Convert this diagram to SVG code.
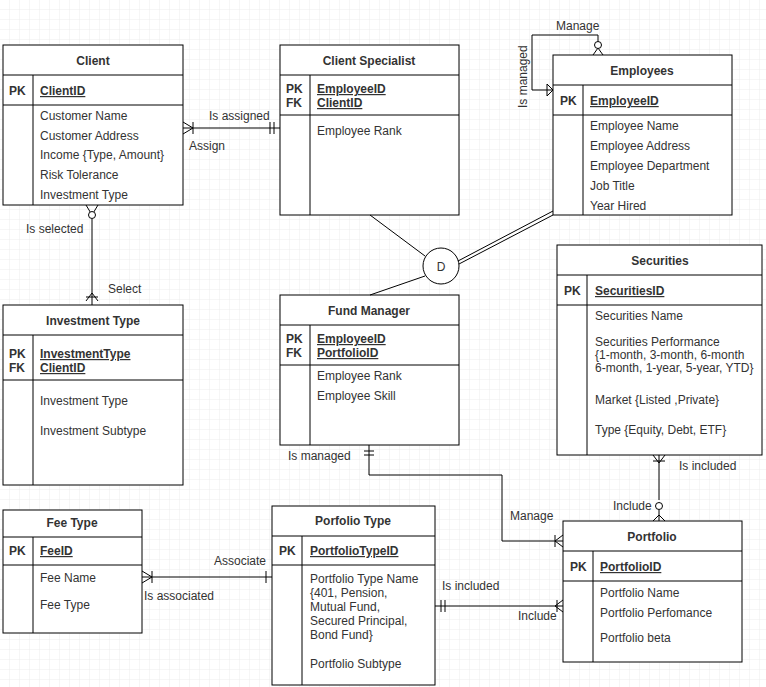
<svg xmlns="http://www.w3.org/2000/svg" width="766" height="687" viewBox="0 0 766 687">
<defs>
<pattern id="g" width="10" height="10" patternUnits="userSpaceOnUse"><path d="M10 0V10H0" fill="none" stroke="#ececec" stroke-width="1"/></pattern>
<style>
text{font-family:"Liberation Sans",Arial,sans-serif;font-size:12px;fill:#333}
.t{font-weight:bold;text-anchor:middle}
.k{font-weight:bold}
.u{text-decoration:underline}
.b{fill:#fff;stroke:#000;stroke-width:1}
.l{fill:none;stroke:#000;stroke-width:1}
</style>
</defs>
<rect width="766" height="687" fill="#fff"/>
<rect width="766" height="687" fill="url(#g)"/>
<g id="client">
<rect class="b" x="3" y="45" width="180" height="160"/>
<path class="l" d="M3 75H183M3 105H183M33 75V205"/>
<text class="t" x="93" y="65">Client</text>
<text class="k" x="9" y="95">PK</text><text class="k u" x="40" y="95">ClientID</text>
<text x="40" y="120">Customer Name</text><text x="40" y="140">Customer Address</text><text x="40" y="159">Income {Type, Amount}</text><text x="40" y="179">Risk Tolerance</text><text x="40" y="199">Investment Type</text>
</g>
<g id="clientspecialist">
<rect class="b" x="280" y="45" width="179" height="170"/>
<path class="l" d="M280 75H459M280 115H459M310 75V215"/>
<text class="t" x="369" y="65">Client Specialist</text>
<text class="k" x="286" y="93">PK</text><text class="k" x="286" y="107">FK</text>
<text class="k u" x="317" y="93">EmployeeID</text><text class="k u" x="317" y="107">ClientID</text>
<text x="317" y="135">Employee Rank</text>
</g>
<g id="employees">
<rect class="b" x="553" y="55" width="179" height="160"/>
<path class="l" d="M553 85H732M553 115H732M583 85V215"/>
<text class="t" x="642" y="75">Employees</text>
<text class="k" x="560" y="105">PK</text><text class="k u" x="590" y="105">EmployeeID</text>
<text x="590" y="130">Employee Name</text><text x="590" y="150">Employee Address</text><text x="590" y="170">Employee Department</text><text x="590" y="190">Job Title</text><text x="590" y="210">Year Hired</text>
</g>
<g id="securities">
<rect class="b" x="557" y="245" width="205" height="210"/>
<path class="l" d="M557 275H762M557 305H762M587 275V455"/>
<text class="t" x="660" y="265">Securities</text>
<text class="k" x="564" y="295">PK</text><text class="k u" x="595" y="295">SecuritiesID</text>
<text x="595" y="320">Securities Name</text>
<text x="595" y="346">Securities Performance</text><text x="595" y="359">{1-month, 3-month, 6-month</text><text x="595" y="372">6-month, 1-year, 5-year, YTD}</text>
<text x="595" y="404">Market {Listed ,Private}</text>
<text x="595" y="434">Type {Equity, Debt, ETF}</text>
</g>
<g id="investmenttype">
<rect class="b" x="3" y="305" width="180" height="180"/>
<path class="l" d="M3 335H183M3 380H183M33 335V485"/>
<text class="t" x="93" y="325">Investment Type</text>
<text class="k" x="9" y="358">PK</text><text class="k" x="9" y="372">FK</text>
<text class="k u" x="40" y="358">InvestmentType</text><text class="k u" x="40" y="372">ClientID</text>
<text x="40" y="405">Investment Type</text><text x="40" y="435">Investment Subtype</text>
</g>
<g id="fundmanager">
<rect class="b" x="280" y="295" width="179" height="150"/>
<path class="l" d="M280 325H459M280 365H459M310 325V445"/>
<text class="t" x="369" y="315">Fund Manager</text>
<text class="k" x="286" y="343">PK</text><text class="k" x="286" y="357">FK</text>
<text class="k u" x="317" y="343">EmployeeID</text><text class="k u" x="317" y="357">PortfolioID</text>
<text x="317" y="380">Employee Rank</text><text x="317" y="400">Employee Skill</text>
</g>
<g id="feetype">
<rect class="b" x="3" y="510" width="139" height="123"/>
<path class="l" d="M3 537H142M3 565H142M33 537V633"/>
<text class="t" x="72" y="527">Fee Type</text>
<text class="k" x="9" y="555">PK</text><text class="k u" x="40" y="555">FeeID</text>
<text x="40" y="582">Fee Name</text><text x="40" y="609">Fee Type</text>
</g>
<g id="portfoliotype">
<rect class="b" x="272" y="506" width="163" height="179"/>
<path class="l" d="M272 536H435M272 565H435M302 536V685"/>
<text class="t" x="353" y="525">Porfolio Type</text>
<text class="k" x="279" y="555">PK</text><text class="k u" x="310" y="555">PortfolioTypeID</text>
<text x="310" y="583">Portfolio Type Name</text><text x="310" y="597">{401, Pension,</text><text x="310" y="611">Mutual Fund,</text><text x="310" y="625">Secured Principal,</text><text x="310" y="639">Bond Fund}</text>
<text x="310" y="668">Portfolio Subtype</text>
</g>
<g id="portfolio">
<rect class="b" x="563" y="521" width="179" height="141"/>
<path class="l" d="M563 551H742M563 581H742M593 551V662"/>
<text class="t" x="652" y="541">Portfolio</text>
<text class="k" x="570" y="571">PK</text><text class="k u" x="600" y="571">PortfolioID</text>
<text x="600" y="597">Portfolio Name</text><text x="600" y="617">Portfolio Perfomance</text><text x="600" y="642">Portfolio beta</text>
</g>
<g id="disjoint">
<circle class="b" cx="441" cy="266" r="18"/>
<text x="441" y="271" style="text-anchor:middle">D</text>
</g>
<g id="connectors" class="l">
<path class="l" d="M370 215L425 256M370 295L425 276"/>
<path class="l" d="M553 211L458 261M553 215L459 264"/>
<!-- client - specialist -->
<path class="l" d="M183 128H280M183 122L193 128L183 134M193 122V134M270 122V134M274 122V134"/>
<!-- client - investment type -->
<path class="l" d="M92 219V305M86 205L92 215L98 205M86 301L92 293L98 301M86 297H98"/>
<circle class="b" cx="92" cy="215" r="3.5"/>
<!-- employees self -->
<path class="l" d="M598 46V35H532V90H553M593 55L598 48L603 55M547 84L553 90L547 96M547 84V96"/>
<circle class="b" cx="598" cy="45" r="3.5"/>
<!-- fund manager - portfolio -->
<path class="l" d="M369 445V475H502V541H563M364 451H374M364 455H374M563 535L555 541L563 547M555 535V547"/>
<!-- securities - portfolio -->
<path class="l" d="M659 455V500M659 510V521M653 455L659 463L665 455M653 461H665M653 521L659 515L665 521"/>
<circle class="b" cx="659" cy="506" r="3.5"/>
<!-- fee - portfolio type -->
<path class="l" d="M142 577H272M142 571L152 577L142 583M152 571V583M266 571V583"/>
<!-- portfolio type - portfolio -->
<path class="l" d="M435 606H563M441 600V612M445 600V612M563 600L555 606L563 612M557 600V612"/>
</g>
<g id="labels">
<text x="209" y="120">Is assigned</text><text x="189" y="150">Assign</text>
<text x="26" y="233">Is selected</text><text x="108" y="293">Select</text>
<text x="556" y="30">Manage</text>
<text transform="translate(527,108) rotate(-90)">Is managed</text>
<text x="288" y="460">Is managed</text>
<text x="510" y="520">Manage</text>
<text x="679" y="470">Is included</text><text x="613" y="510">Include</text>
<text x="214" y="565">Associate</text><text x="144" y="600">Is associated</text>
<text x="442" y="590">Is included</text><text x="518" y="620">Include</text>
</g>
</svg>
